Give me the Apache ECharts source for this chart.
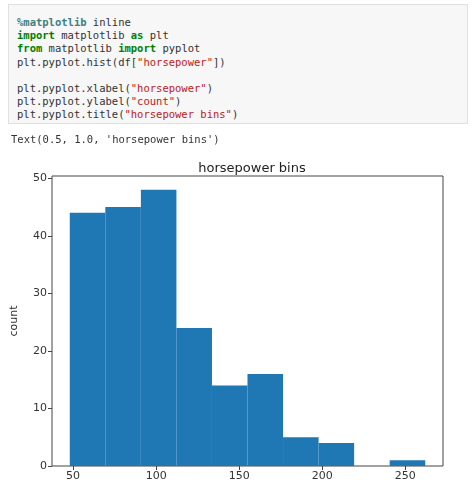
<!DOCTYPE html>
<html>
<head>
<meta charset="utf-8">
<script src="https://cdn.jsdelivr.net/npm/echarts@6/dist/echarts.min.js"></script>
<style>
body { margin: 0; background: #fff; }
#code {
	position: absolute; left: 8px; top: 4px; width: 460px; height: 120px;
	background: #f7f7f7; border: 1px solid #e0e0e0; box-sizing: border-box;
	font-family: "DejaVu Sans Mono", monospace; font-size: 10.5px; color: #333;
	padding: 11px 0 0 8px; line-height: 13.2px; white-space: pre;
}
.kw { color: #008000; font-weight: bold; }
.mg { color: #408080; font-weight: bold; }
.st { color: #ba2121; }
#out {
	position: absolute; left: 11px; top: 133px;
	font-family: "DejaVu Sans Mono", monospace; font-size: 10.5px; color: #333; white-space: pre;
}
#chart { position: absolute; left: 0; top: 0; width: 474px; height: 488px; }
</style>
</head>
<body>
<div id="chart"></div>
<div id="code"><span class="mg">%matplotlib</span> inline
<span class="kw">import</span> matplotlib <span class="kw">as</span> plt
<span class="kw">from</span> matplotlib <span class="kw">import</span> pyplot
plt.pyplot.hist(df[<span class="st">"horsepower"</span>])

plt.pyplot.xlabel(<span class="st">"horsepower"</span>)
plt.pyplot.ylabel(<span class="st">"count"</span>)
plt.pyplot.title(<span class="st">"horsepower bins"</span>)</div>
<div id="out">Text(0.5, 1.0, 'horsepower bins')</div>
<script>
// bin edges of the horsepower histogram (10 bins, 48..262)
var binEdges = [48, 69.4, 90.8, 112.2, 133.6, 155, 176.4, 197.8, 219.2, 240.6, 262];
// count per bin
var binCounts = [44, 45, 48, 24, 14, 16, 5, 4, 0, 1];
var xTicks = [50, 100, 150, 200, 250];
var yTicks = [0, 10, 20, 30, 40, 50];

var histData = [];
for (var i = 0; i < binCounts.length; i++) {
	histData.push([binEdges[i], binEdges[i + 1], binCounts[i]]);
}

var chart = echarts.init(document.getElementById('chart'));
chart.setOption({
	animation: false,
	title: {
		text: 'horsepower bins', left: 247, top: 157, textAlign: 'center',
		textStyle: { fontFamily: 'DejaVu Sans', fontSize: 13, fontWeight: 'normal', color: '#222' }
	},
	grid: { left: 52, right: 31, top: 176, bottom: 22, show: true, borderColor: '#444', borderWidth: 1 },
	xAxis: {
		type: 'value', min: 37.3, max: 272.7,
		axisLine: { show: false },
		splitLine: { show: false },
		axisTick: { show: true, customValues: xTicks, length: 4, lineStyle: { color: '#444' } },
		axisLabel: { customValues: xTicks, fontFamily: 'DejaVu Sans', fontSize: 11, color: '#333', margin: 5 }
	},
	yAxis: {
		type: 'value', min: 0, max: 50.4,
		name: 'count', nameLocation: 'middle', nameGap: 32,
		nameTextStyle: { fontFamily: 'DejaVu Sans', fontSize: 11, color: '#333' },
		axisLine: { show: false },
		splitLine: { show: false },
		axisTick: { show: true, customValues: yTicks, length: 4, lineStyle: { color: '#444' } },
		axisLabel: { customValues: yTicks, fontFamily: 'DejaVu Sans', fontSize: 11, color: '#333', margin: 5 }
	},
	series: [{
		type: 'custom',
		data: histData,
		encode: { x: [0, 1], y: 2 },
		renderItem: function (params, api) {
			var p0 = api.coord([api.value(0), 0]);
			var p1 = api.coord([api.value(1), api.value(2)]);
			return {
				type: 'rect',
				shape: { x: p0[0], y: p1[1], width: p1[0] - p0[0], height: p0[1] - p1[1] },
				style: { fill: '#1f77b4' }
			};
		}
	}]
});
</script>
</body>
</html>
